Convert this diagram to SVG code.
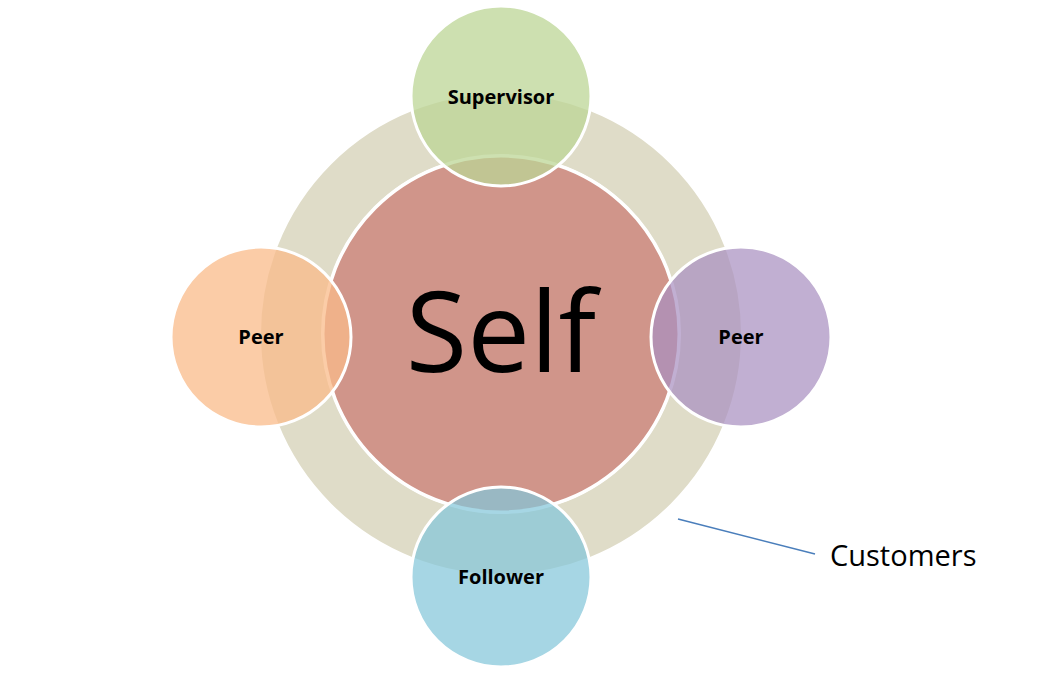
<svg xmlns="http://www.w3.org/2000/svg" width="1052" height="673" viewBox="0 0 1052 673">
<style>
.sat{stroke:#fff;stroke-width:3}
.lbl{font-family:"Open Sans","Liberation Sans",sans-serif;font-weight:bold;font-size:20px;text-anchor:middle}
</style>
<rect width="1052" height="673" fill="#fff"/>
<g id="ring"><circle cx="501" cy="334" r="210" fill="none" stroke="#dfdcc8" stroke-width="60"/></g>
<g id="self"><circle cx="501" cy="334" r="178" fill="#d0958a" stroke="#fff" stroke-width="3"/>
<text x="501" y="372" font-family="Open Sans, Liberation Sans, sans-serif" font-size="112" text-anchor="middle">Self</text></g>
<g id="supervisor"><circle class="sat" cx="501" cy="96" r="90" fill="#bcd596" fill-opacity="0.75"/><text class="lbl" x="501" y="104">Supervisor</text></g>
<g id="peer-left"><circle class="sat" cx="261" cy="337" r="90" fill="#f9bb8a" fill-opacity="0.75"/><text class="lbl" x="261" y="344">Peer</text></g>
<g id="peer-right"><circle class="sat" cx="741" cy="337" r="90" fill="#a990c0" fill-opacity="0.72"/><text class="lbl" x="741" y="344">Peer</text></g>
<g id="follower"><circle class="sat" cx="501" cy="577" r="90" fill="#84c6d9" fill-opacity="0.72"/><text class="lbl" x="501" y="584">Follower</text></g>
<g id="connectors"><line x1="678" y1="519" x2="815" y2="554" stroke="#4a7ebb" stroke-width="1.5"/></g>
<g id="customers"><text x="830" y="566" font-family="Open Sans, Liberation Sans, sans-serif" font-size="29">Customers</text></g>
</svg>
